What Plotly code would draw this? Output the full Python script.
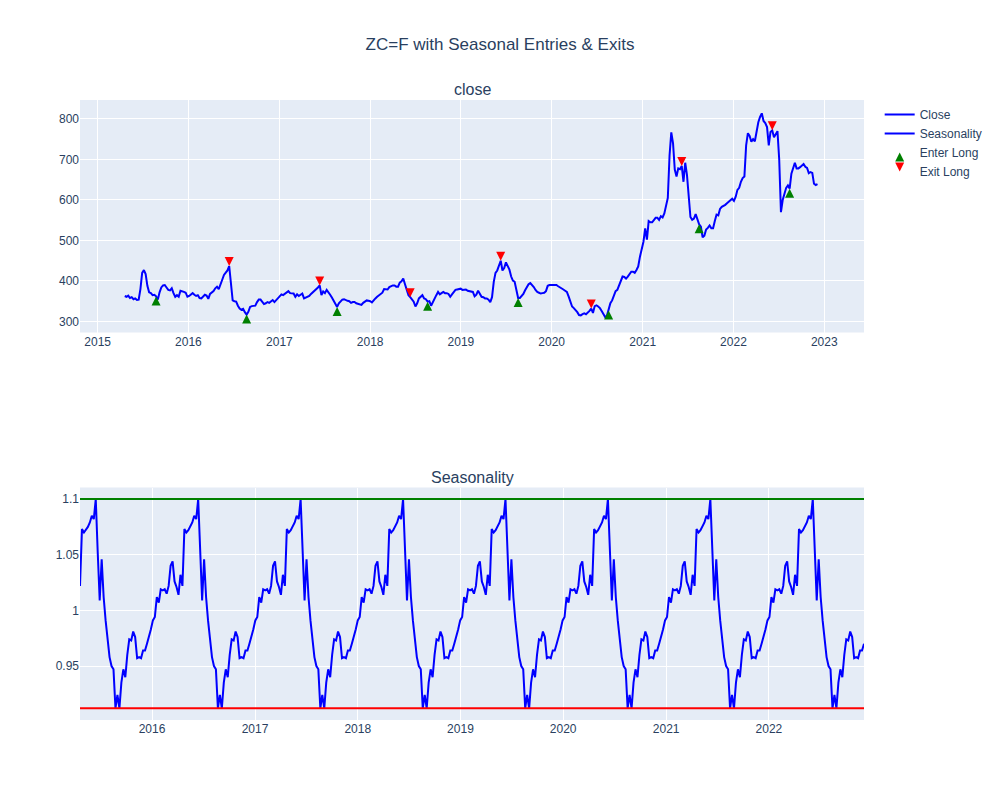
import pandas as pd
import plotly.graph_objects as go
from plotly.subplots import make_subplots

# ---------------- data ----------------
start_date = "2015-04-20"   # first weekly observation

close = [
    363, 361, 364, 358, 360, 355, 357, 353, 354, 380,
    420, 427, 417, 388, 372, 370, 365, 366, 362, 354,
    372, 384, 389, 390, 384, 378, 377, 382, 370, 361,
    365, 361, 376, 375, 373, 371, 361, 363, 366, 370,
    366, 363, 365, 358, 357, 361, 366, 364, 356, 368,
    372, 375, 382, 386, 380, 390, 403, 415, 421, 426,
    437, 390, 352, 350, 349, 339, 332, 329, 331, 323,
    317, 324, 336, 338, 338, 339, 348, 354, 354, 347,
    343, 345, 348, 346, 350, 353, 348, 353, 357, 362,
    367, 365, 368, 372, 375, 370, 370, 369, 361, 367,
    363, 366, 369, 357, 359, 360, 363, 368, 372, 374,
    380, 384, 389, 365, 374, 370, 378, 373, 366, 359,
    351, 342, 336, 345, 351, 354, 355, 352, 351, 350,
    346, 348, 348, 345, 344, 342, 341, 346, 350, 352,
    351, 350, 347, 353, 357, 361, 364, 367, 371, 380,
    380, 379, 385, 388, 389, 389, 386, 386, 396, 399,
    406, 392, 381, 365, 360, 355, 349, 337, 345, 357,
    362, 365, 357, 355, 349, 350, 339, 349, 355, 365,
    373, 367, 370, 373, 370, 370, 368, 361, 367, 372,
    378, 379, 380, 381, 378, 379, 379, 376, 375, 374,
    373, 362, 366, 376, 368, 361, 360, 357, 357, 354,
    348, 360, 398, 420, 426, 440, 450, 426, 432, 446,
    438, 428, 411, 401, 398, 380, 358, 358, 363, 368,
    377, 385, 392, 395, 391, 385, 378, 373, 371, 369,
    370, 371, 375, 388, 390, 390, 389, 389, 390, 387,
    385, 383, 379, 376, 373, 362, 347, 337, 333, 329,
    323, 316, 315, 318, 320, 318, 321, 326, 332, 321,
    338, 340, 337, 333, 326, 318, 311, 314, 327, 345,
    352, 366, 375, 378, 388, 399, 411, 410, 406, 411,
    417, 423, 423, 420, 427, 436, 460, 481, 497, 530,
    502, 548, 545, 545, 550, 556, 556, 551, 560, 557,
    567, 584, 605, 710, 767, 740, 675, 658, 678, 676,
    684, 645, 692, 662, 600, 558, 551, 554, 565, 552,
    540, 534, 508, 512, 527, 531, 537, 530, 530, 548,
    564, 562, 578, 583, 585, 588, 592, 596, 601, 603,
    598, 608, 625, 630, 645, 654, 658, 735, 765, 758,
    744, 750, 745, 772, 792, 805, 814, 795, 790, 780,
    735, 768, 772, 755, 763, 770, 700, 570, 600, 618,
    630, 636, 628, 665, 680, 692, 678, 678, 681, 685,
    689, 682, 679, 666, 669, 667, 640, 637, 639,
]

# one 52-week seasonal cycle, starting at the first observation week
season_profile = [
    1.022, 1.073, 1.070, 1.072, 1.075, 1.079, 1.085, 1.082, 1.100, 1.052,
    1.009, 1.046, 1.012, 0.991, 0.976, 0.958, 0.950, 0.947, 0.912, 0.924,
    0.912, 0.935, 0.947, 0.940, 0.960, 0.974, 0.973, 0.981, 0.976, 0.957,
    0.958, 0.957, 0.964, 0.964, 0.970, 0.976, 0.983, 0.991, 0.994, 1.012,
    1.007, 1.019, 1.018, 1.019, 1.015, 1.022, 1.040, 1.044, 1.026, 1.021,
    1.014, 1.032,
]

entry_dates = ["2015-08-24", "2016-08-22", "2017-08-21", "2018-08-20",
               "2019-08-19", "2020-08-17", "2021-08-16", "2022-08-15"]
exit_dates = ["2016-06-13", "2017-06-12", "2018-06-11", "2019-06-10",
              "2020-06-08", "2021-06-07", "2022-06-06"]

upper_threshold = 1.1
lower_threshold = 0.912

# ---------------- build ----------------
dates = pd.date_range(start_date, periods=len(close), freq="7D")
close_s = pd.Series(close, index=dates)
seasonality = [season_profile[i % len(season_profile)] for i in range(len(dates))]
entry_idx = pd.to_datetime(entry_dates)
exit_idx = pd.to_datetime(exit_dates)

fig = make_subplots(rows=2, cols=1, subplot_titles=("close", "Seasonality"),
                    vertical_spacing=0.25)

fig.add_trace(go.Scatter(x=dates, y=close, mode="lines", name="Close",
                         line=dict(color="blue", width=2)), row=1, col=1)
fig.add_trace(go.Scatter(x=dates, y=seasonality, mode="lines", name="Seasonality",
                         line=dict(color="blue", width=2)), row=2, col=1)
fig.add_trace(go.Scatter(x=entry_idx, y=close_s.loc[entry_idx].values, mode="markers",
                         name="Enter Long",
                         marker=dict(symbol="arrow-up", color="green", size=9)),
              row=1, col=1)
fig.add_trace(go.Scatter(x=exit_idx, y=close_s.loc[exit_idx].values, mode="markers",
                         name="Exit Long",
                         marker=dict(symbol="arrow-down", color="red", size=9)),
              row=1, col=1)

fig.add_hline(y=upper_threshold, line=dict(color="green", width=2), row=2, col=1)
fig.add_hline(y=lower_threshold, line=dict(color="red", width=2), row=2, col=1)

fig.update_xaxes(range=["2014-10-22", "2023-06-10"], row=1, col=1)
fig.update_yaxes(range=[272.8, 846.9], row=1, col=1)
fig.update_xaxes(range=[dates[0], dates[-1]], row=2, col=1)
fig.update_yaxes(range=[0.9015, 1.1104], row=2, col=1)

fig.update_layout(
    width=1000, height=800,
    font=dict(family="Arial, Liberation Sans, sans-serif"),
    title=dict(text="ZC=F with Seasonal Entries & Exits", x=0.5, xanchor="center"),
)
fig.update_annotations(font_family="Arial, Liberation Sans, sans-serif")

fig.write_html("out.html")
